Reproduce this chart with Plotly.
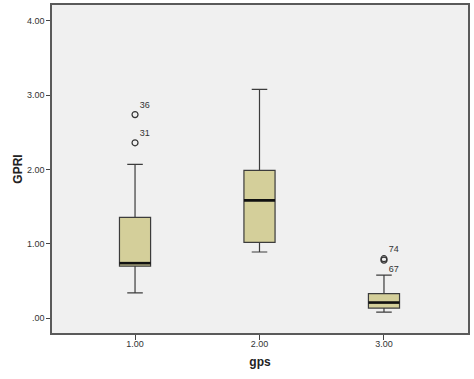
import plotly.graph_objects as go

groups = [1.0, 2.0, 3.0]
lower_whisker = [0.34, 0.89, 0.08]
q1 = [0.70, 1.02, 0.135]
median = [0.74, 1.585, 0.21]
q3 = [1.356, 1.99, 0.33]
upper_whisker = [2.07, 3.08, 0.58]

outlier_x = [1.0, 1.0, 3.0, 3.0]
outlier_y = [2.74, 2.36, 0.80, 0.78]
outlier_labels = ["36", "31", "74", "67"]
outlier_label_pos = ["top right", "top right", "top right", "bottom right"]

x_ticks = [1.0, 2.0, 3.0]
x_tick_labels = ["1.00", "2.00", "3.00"]
y_ticks = [0, 1, 2, 3, 4]
y_tick_labels = [".00", "1.00", "2.00", "3.00", "4.00"]

BOX_W = 0.25
fill = "#D4CF9A"
edge = "#3c3c3c"

fig = go.Figure()
for i, g in enumerate(groups):
    fig.add_trace(go.Box(
        x=[g], q1=[q1[i]], median=[median[i]], q3=[q3[i]],
        lowerfence=[lower_whisker[i]], upperfence=[upper_whisker[i]],
        width=BOX_W, whiskerwidth=0.5, fillcolor=fill,
        line=dict(color=edge, width=1.2), boxpoints=False,
        hoverinfo="skip", showlegend=False,
    ))
    fig.add_trace(go.Scatter(
        x=[g - BOX_W / 2, g + BOX_W / 2], y=[median[i], median[i]],
        mode="lines", line=dict(color="#111111", width=2.6),
        hoverinfo="skip", showlegend=False,
    ))

fig.add_trace(go.Scatter(
    x=outlier_x, y=outlier_y, mode="markers+text",
    marker=dict(symbol="circle-open", size=6, color="#333333", line=dict(width=1.2)),
    text=outlier_labels, textposition=outlier_label_pos,
    textfont=dict(family="Liberation Sans, Arial", size=9, color="#333333"),
    hoverinfo="skip", showlegend=False,
))

fig.update_layout(
    width=474, height=379,
    margin=dict(l=52, r=6, t=5, b=46, autoexpand=False),
    paper_bgcolor="white", plot_bgcolor="#F0F0F0",
    font=dict(family="Liberation Sans, Arial", size=9, color="#333333"),
    xaxis=dict(
        range=[0.333, 3.675], tickvals=x_ticks, ticktext=x_tick_labels,
        ticks="outside", ticklen=5, tickcolor="#444444", ticklabelstandoff=-4,
        showline=True, mirror=True, linecolor="#5a5a5a", linewidth=1.5,
        showgrid=False, zeroline=False,
        title=dict(text="<b>gps</b>", font=dict(size=12, color="#222222"), standoff=10),
    ),
    yaxis=dict(
        range=[-0.2, 4.215], tickvals=y_ticks, ticktext=y_tick_labels,
        ticks="outside", ticklen=4, tickcolor="#444444",
        showline=True, mirror=True, linecolor="#5a5a5a", linewidth=1.5,
        showgrid=False, zeroline=False,
        title=dict(text="<b>GPRI</b>", font=dict(size=12, color="#222222"), standoff=2),
    ),
)

fig.write_html(
    "out.html",
    config={"displayModeBar": False},
    post_script="document.body.style.margin='0';document.body.style.overflow='hidden';",
)
